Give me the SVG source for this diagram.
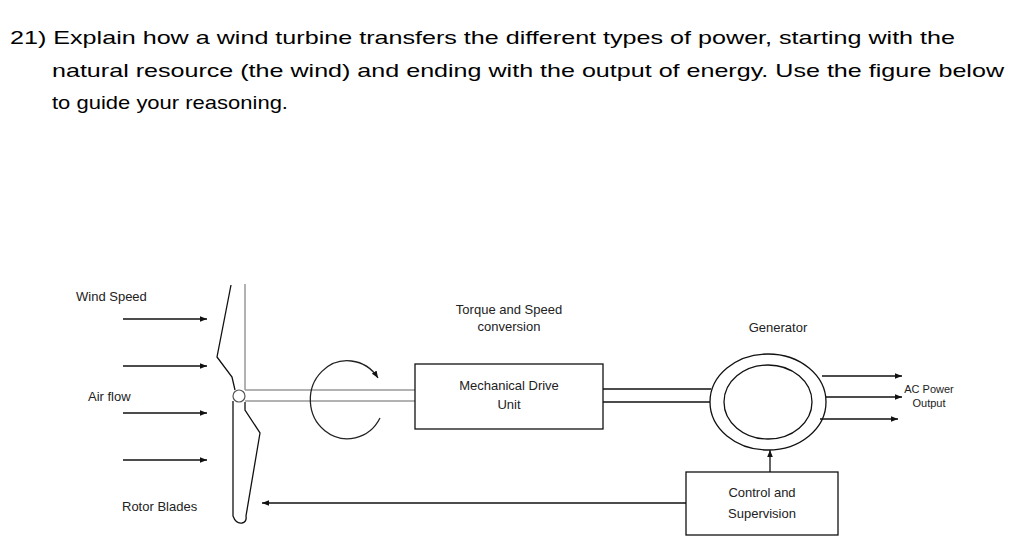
<svg xmlns="http://www.w3.org/2000/svg" width="1024" height="556" viewBox="0 0 1024 556">
<defs>
<style>
.q{font-family:"Liberation Sans",Arial,sans-serif;font-size:19px;fill:#000}
.t{font-family:"Liberation Sans",Arial,sans-serif;font-size:13px;fill:#222}
.s{font-family:"Liberation Sans",Arial,sans-serif;font-size:11px;fill:#222}
.ln{stroke:#111;stroke-width:1.3;fill:none}
.g{stroke:#999;stroke-width:1.5;fill:none}
</style>
<marker id="ah" viewBox="0 0 10 10" refX="10" refY="5" markerWidth="7" markerHeight="7" orient="auto-start-reverse" markerUnits="userSpaceOnUse"><path d="M0,1 L10,5 L0,9 z" fill="#111"/></marker>
</defs>
<rect width="1024" height="556" fill="#fff"/>
<g id="question">
<text class="q" x="10" y="44" textLength="945" lengthAdjust="spacingAndGlyphs">21) Explain how a wind turbine transfers the different types of power, starting with the</text>
<text class="q" x="52" y="77" textLength="952" lengthAdjust="spacingAndGlyphs">natural resource (the wind) and ending with the output of energy.  Use the figure below</text>
<text class="q" x="52" y="109" textLength="236" lengthAdjust="spacingAndGlyphs">to guide your reasoning.</text>
</g>
<g id="labels">
<text class="t" x="76" y="301">Wind Speed</text>
<text class="t" x="88" y="401">Air flow</text>
<text class="t" x="122" y="511">Rotor Blades</text>
</g>
<g id="turbine">
<line class="g" x1="245" y1="284" x2="245" y2="390"/>
<path class="ln" d="M231,285 L217,357 L232,377 L235,390"/>
<path class="ln" d="M233,401 L233,516 Q236,524 242,523 Q247,522 246,516 L260,433 L245,410 L245,402"/>
<circle cx="239" cy="396" r="6" fill="#fff" stroke="#555" stroke-width="1.2"/>
<line class="g" x1="245" y1="390" x2="415" y2="390"/>
<line class="g" x1="245" y1="401" x2="415" y2="401"/>
<path d="M380,418 A37,39 0 1 1 378,378" fill="none" stroke="#222" stroke-width="1.3" marker-end="url(#ah)"/>
</g>
<g id="mech">
<rect x="415" y="364" width="188" height="65" fill="#fff" stroke="#111" stroke-width="1.3"/>
<text class="t" x="509" y="314" text-anchor="middle">Torque and Speed</text>
<text class="t" x="509" y="331" text-anchor="middle">conversion</text>
<text class="t" x="509" y="390" text-anchor="middle">Mechanical Drive</text>
<text class="t" x="509" y="409" text-anchor="middle">Unit</text>
</g>
<g id="generator">
<text class="t" x="778" y="332" text-anchor="middle">Generator</text>
<ellipse cx="768" cy="402" rx="58" ry="48" fill="#fff" stroke="#111" stroke-width="1.3"/>
<ellipse cx="768" cy="402" rx="44" ry="37" fill="none" stroke="#111" stroke-width="1.3"/>
</g>
<g id="control">
<rect x="686" y="472" width="152" height="63" fill="#fff" stroke="#111" stroke-width="1.3"/>
<text class="t" x="762" y="497" text-anchor="middle">Control and</text>
<text class="t" x="762" y="518" text-anchor="middle">Supervision</text>
</g>
<g id="output">
<text class="s" x="929" y="393" text-anchor="middle">AC Power</text>
<text class="s" x="929" y="407" text-anchor="middle">Output</text>
</g>
<g id="connectors">
<line class="ln" x1="123" y1="319" x2="207" y2="319" marker-end="url(#ah)"/>
<line class="ln" x1="123" y1="366" x2="207" y2="366" marker-end="url(#ah)"/>
<line class="ln" x1="123" y1="413" x2="207" y2="413" marker-end="url(#ah)"/>
<line class="ln" x1="123" y1="460" x2="207" y2="460" marker-end="url(#ah)"/>
<line class="ln" x1="603" y1="389" x2="711" y2="389"/>
<line class="ln" x1="603" y1="402" x2="710" y2="402"/>
<line class="ln" x1="822" y1="376" x2="902" y2="376" marker-end="url(#ah)"/>
<line class="ln" x1="826" y1="397" x2="902" y2="397" marker-end="url(#ah)"/>
<line class="ln" x1="820" y1="419" x2="898" y2="419" marker-end="url(#ah)"/>
<line class="ln" x1="770" y1="472" x2="770" y2="450" marker-end="url(#ah)"/>
<line class="ln" x1="686" y1="503" x2="262" y2="503" marker-end="url(#ah)"/>
</g>
</svg>
